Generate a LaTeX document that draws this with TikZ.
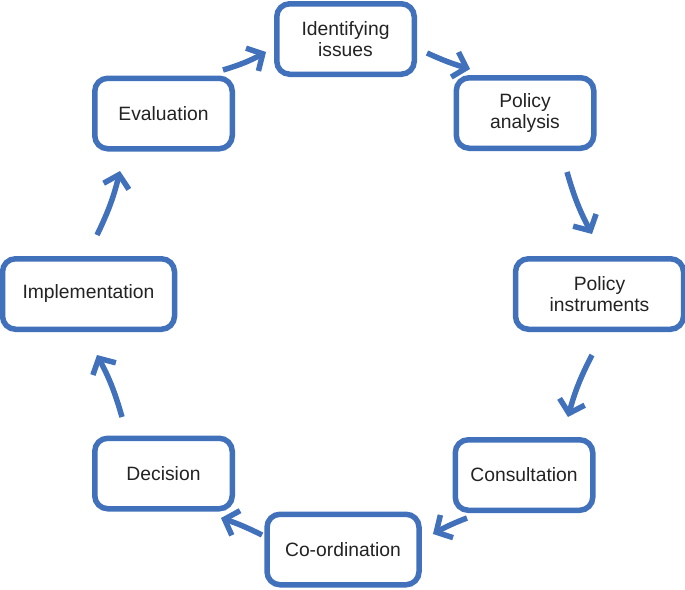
\documentclass[tikz,border=0pt]{standalone}
\usepackage{fontspec}
\setmainfont{Liberation Sans}
\usetikzlibrary{arrows.meta}
\definecolor{cycblue}{RGB}{66,113,187}
\definecolor{txtgray}{RGB}{35,35,35}
\begin{document}
\begin{tikzpicture}[x=1pt,y=-1pt,
  stagebox/.style={draw=cycblue, line width=5.5pt, rounded corners=13pt, fill=white,
    minimum width=137.5pt, minimum height=70.5pt, align=center, inner sep=2pt,
    text=txtgray, font=\fontsize{19.3}{21}\selectfont},
  widebox/.style={stagebox, minimum width=168pt},
  cycarrow/.style={draw=cycblue, line width=5.5pt,
    -{Straight Barb[length=12pt,width=26pt]}}]
\useasboundingbox (0,0) rectangle (685,589);
\node[stagebox] (ident) at (345.5,39) {Identifying\\issues};
\node[stagebox] (analysis) at (525,113) {Policy\\analysis};
\node[widebox] (instr) at (599.5,294) {Policy\\instruments};
\node[stagebox] (consult) at (524,475) {Consultation};
\node[widebox, minimum width=152pt] (coord) at (343,549.5) {Co-ordination};
\node[stagebox] (decision) at (163.5,473.5) {Decision};
\node[widebox, minimum width=172pt] (impl) at (88.5,294) {Implementation};
\node[stagebox] (eval) at (163.5,113.5) {Evaluation};
% arrow end points
\coordinate (a1s) at (223,70);  \coordinate (a1e) at (266,52);
\coordinate (a2s) at (427,53);  \coordinate (a2e) at (470,69);
\coordinate (a3s) at (567,172); \coordinate (a3e) at (592,234);
\coordinate (a4s) at (592,355); \coordinate (a4e) at (568,417);
\coordinate (a5s) at (467,518); \coordinate (a5e) at (433,534);
\coordinate (a6s) at (262,535); \coordinate (a6e) at (221,518);
\coordinate (a7s) at (122,417); \coordinate (a7e) at (97,355);
\coordinate (a8s) at (97,235);  \coordinate (a8e) at (120,171);
\draw[cycarrow] (a1s) to[bend right=6] (a1e);
\draw[cycarrow] (a2s) to[bend right=4] (a2e);
\draw[cycarrow] (a3s) to[bend right=6] (a3e);
\draw[cycarrow] (a4s) to[bend right=6] (a4e);
\draw[cycarrow] (a5s) to[bend right=4] (a5e);
\draw[cycarrow] (a6s) to[bend right=4] (a6e);
\draw[cycarrow] (a7s) to[bend right=6] (a7e);
\draw[cycarrow] (a8s) to[bend right=6] (a8e);
\end{tikzpicture}
\end{document}
